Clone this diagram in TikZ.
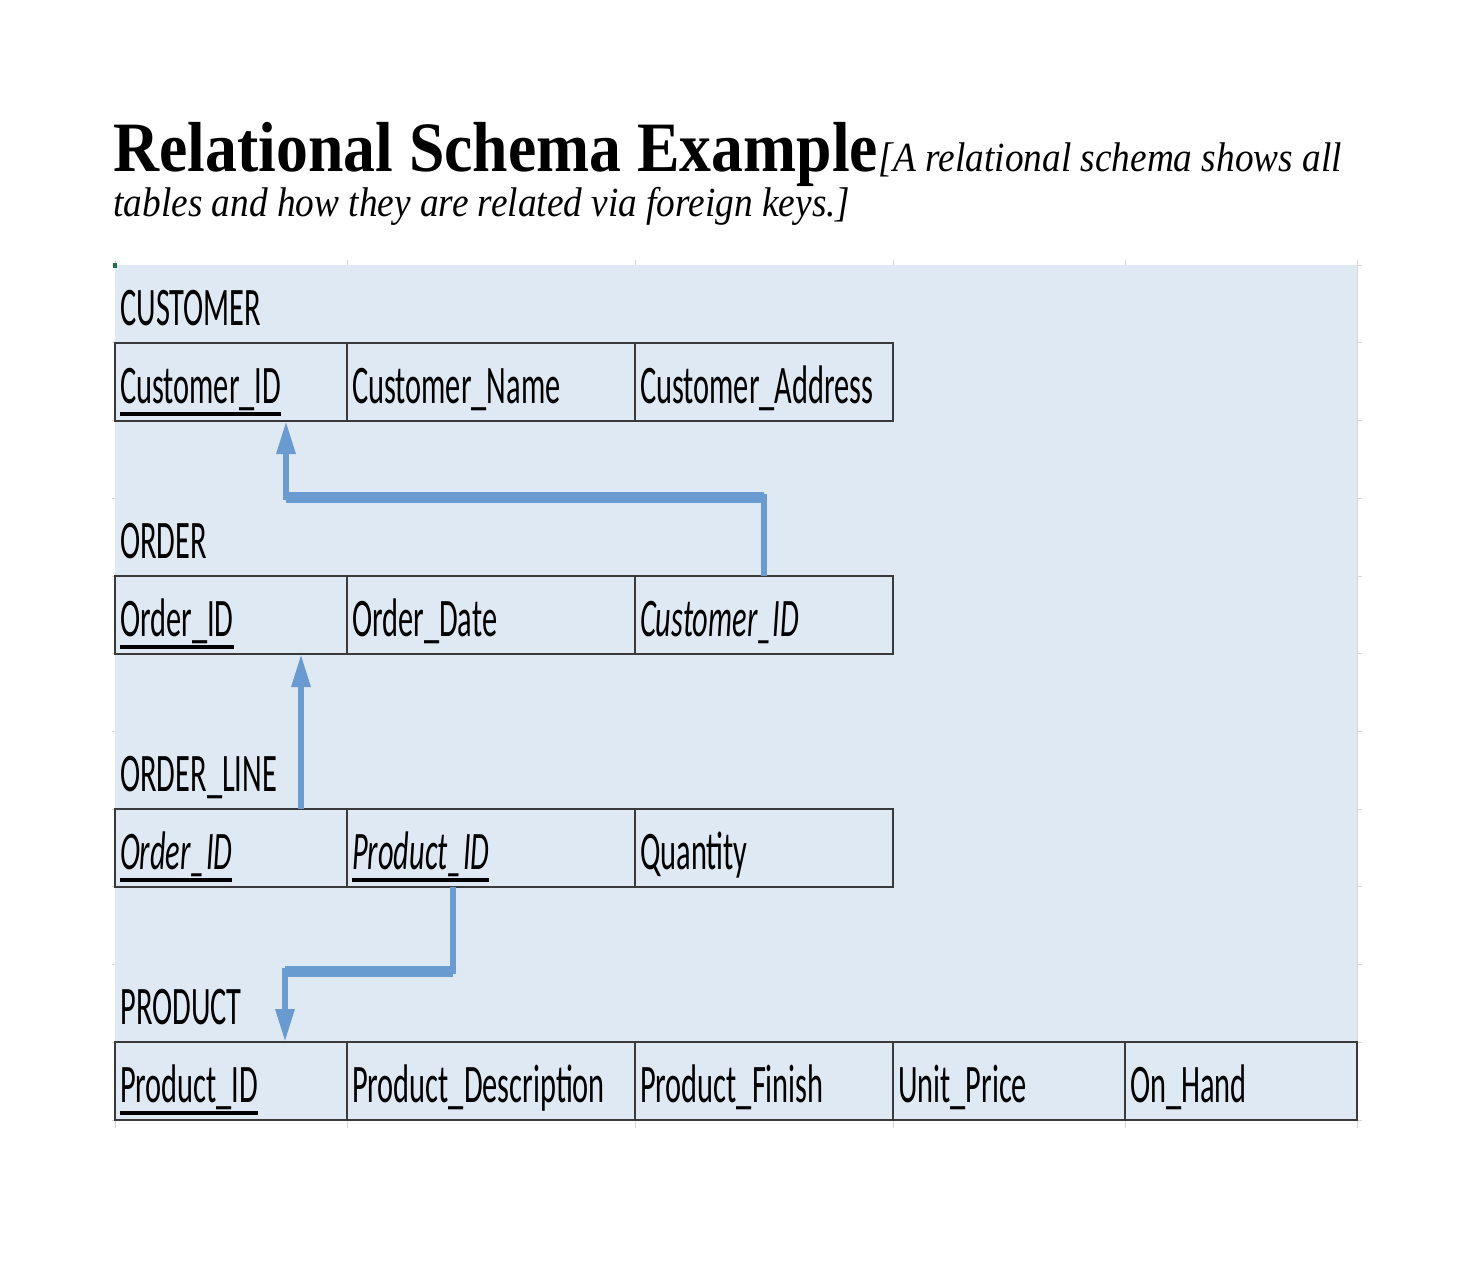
\documentclass[tikz,border=0pt]{standalone}
\usepackage{fontspec}
\usepackage{tikz}
\usetikzlibrary{arrows.meta}
\newfontfamily\cellfont[FakeStretch=0.56]{Carlito}
\newfontfamily\titlefont[FakeStretch=0.9]{Liberation Serif}
\definecolor{sheetblue}{HTML}{DFE9F4}
\definecolor{gridgray}{HTML}{D6D6D6}
\definecolor{keyblue}{HTML}{6A9BD0}
\definecolor{celledge}{HTML}{3A3A3A}
\definecolor{markgreen}{HTML}{217346}
\newcommand{\pkey}[1]{\vtop{\hbox{#1}\kern0.9pt\hrule height 2.2pt}}
\tikzset{
  cell/.style={draw=celledge, line width=0.8pt, anchor=west, minimum height=15.6mm,
    inner xsep=1mm, outer sep=0pt, text width=#1, text height=8.4mm, text depth=0pt,
    align=left, font=\cellfont\fontsize{30.9pt}{36pt}\selectfont},
  tablename/.style={anchor=west, inner xsep=1mm, minimum height=15.6mm,
    text height=8.4mm, text depth=0pt, font=\cellfont\fontsize{30.9pt}{36pt}\selectfont},
  gridline/.style={draw=gridgray, line width=0.4pt},
  fk/.style={draw=keyblue, line width=1.2mm, -{Triangle[length=6.6mm,width=3.6mm]}},
  fkbar/.style={draw=keyblue, line width=2.2mm, line cap=butt},
}
\begin{document}
\begin{tikzpicture}[x=0.2mm,y=-0.2mm,>=stealth]
  \useasboundingbox (0,0) rectangle (1470,1288);
  % heading
  \node[anchor=base west, inner sep=0, font=\titlefont\bfseries\fontsize{40.3pt}{48pt}\selectfont]
    (title) at (113,172) {Relational Schema Example};
  \node[anchor=base west, inner sep=0, font=\titlefont\itshape\fontsize{23.6pt}{28pt}\selectfont]
    (note1) at (title.base east) {[A relational schema shows all};
  \node[anchor=base west, inner sep=0, font=\titlefont\itshape\fontsize{23.6pt}{28pt}\selectfont]
    (note2) at (113,217) {tables and how they are related via foreign keys.]};
  % sheet
  \foreach \k in {0,...,11}
    \draw[gridline] (112,{265+77.73*\k}) -- (1362,{265+77.73*\k});
  \foreach \x in {115,347,635,893,1125,1357}
    \draw[gridline] (\x,260) -- (\x,1128);
  \fill[sheetblue] (115,265) rectangle (1357,1120);
  \fill[markgreen] (113,263) rectangle (117,268);
  % CUSTOMER
  \node[tablename] (cust) at (115,304) {CUSTOMER};
  \node[cell=44.4mm] (cust-id) at (115,382) {\pkey{Customer\_ID}};
  \node[cell=55.6mm] (cust-name) at (cust-id.east) {Customer\_Name};
  \node[cell=49.6mm] (cust-addr) at (cust-name.east) {Customer\_Address};
  % ORDER
  \node[tablename] (ord) at (115,537) {ORDER};
  \node[cell=44.4mm] (ord-id) at (115,615) {\pkey{Order\_ID}};
  \node[cell=55.6mm] (ord-date) at (ord-id.east) {Order\_Date};
  \node[cell=49.6mm] (ord-cust) at (ord-date.east) {\itshape Customer\_ID};
  % ORDER_LINE
  \node[tablename] (line) at (115,770) {ORDER\_LINE};
  \node[cell=44.4mm] (line-ord) at (115,848) {\itshape\pkey{Order\_ID}};
  \node[cell=55.6mm] (line-prod) at (line-ord.east) {\itshape\pkey{Product\_ID}};
  \node[cell=49.6mm] (line-qty) at (line-prod.east) {Quantity};
  % PRODUCT
  \node[tablename] (prod) at (115,1003) {PRODUCT};
  \node[cell=44.4mm] (prod-id) at (115,1081) {\pkey{Product\_ID}};
  \node[cell=55.6mm] (prod-desc) at (prod-id.east) {Product\_Description};
  \node[cell=49.6mm] (prod-fin) at (prod-desc.east) {Product\_Finish};
  \node[cell=44.4mm] (prod-price) at (prod-fin.east) {Unit\_Price};
  \node[cell=44.4mm] (prod-hand) at (prod-price.east) {On\_Hand};
  % foreign keys
  \coordinate (cust-bend) at (286,497);
  \draw[fk] (ord-cust.north) |- (cust-bend) -- (cust-bend |- cust-id.south);
  \draw[fkbar] (ord-cust.north |- cust-bend) -- (cust-bend);
  \coordinate (line-tail) at (301,809);
  \draw[fk] (line-tail) -- (line-tail |- ord-id.south);
  \coordinate (prod-tail) at (453,887);
  \coordinate (prod-bend) at (285,971);
  \draw[fk] (prod-tail) |- (prod-bend) -- (prod-bend |- prod-id.north);
  \draw[fkbar] (prod-tail |- prod-bend) -- (prod-bend);
\end{tikzpicture}
\end{document}
